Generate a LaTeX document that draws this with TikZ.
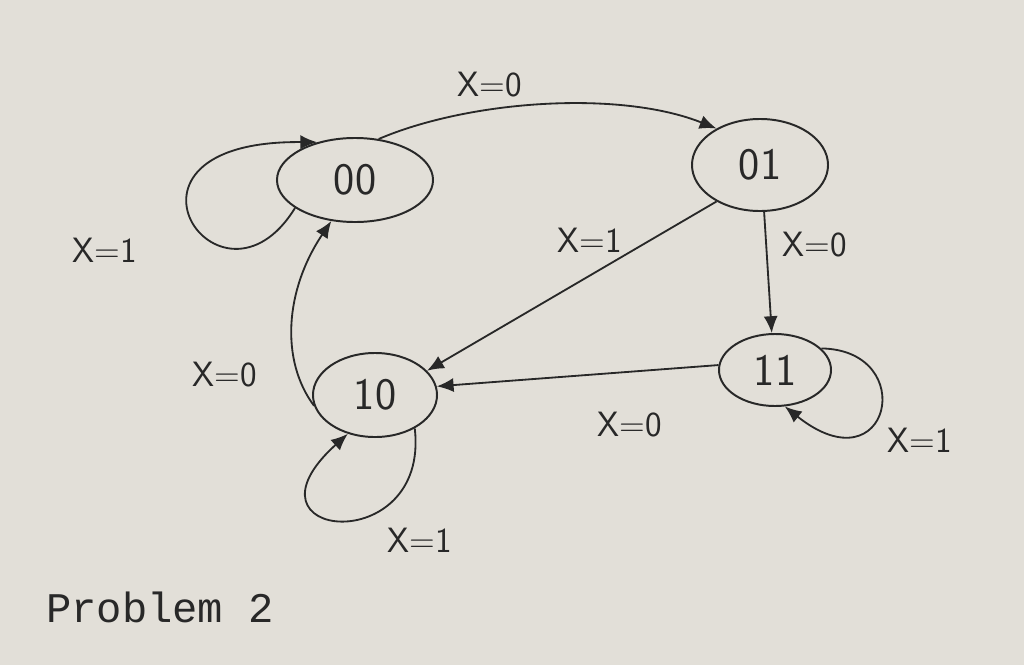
\documentclass[tikz,border=0pt]{standalone}
\usepackage{fontspec}
\setmonofont{Liberation Mono}
\usetikzlibrary{shapes.geometric,arrows.meta}
\definecolor{paper}{RGB}{226,223,216}
\definecolor{ink}{RGB}{40,40,40}
\tikzset{
  stt/.style={draw=ink,line width=1.4pt,ellipse,inner sep=0pt,font=\fontsize{32}{32}\selectfont\sffamily,text=ink},
  lbl/.style={font=\fontsize{25}{25}\selectfont\sffamily,text=ink},
  arr/.style={draw=ink,line width=1.3pt,-{Latex[length=12pt,width=10pt]}}
}
\begin{document}
\begin{tikzpicture}[x=0.025cm,y=-0.025cm]
\fill[paper] (0,0) rectangle (1024,665);
\useasboundingbox (0,0) rectangle (1024,665);
\node[stt,minimum width=3.9cm,minimum height=2.1cm] (s00) at (355,180) {00};
\node[stt,minimum width=3.4cm,minimum height=2.3cm] (s01) at (760,165) {01};
\node[stt,minimum width=2.8cm,minimum height=1.8cm] (s11) at (775,370) {11};
\node[stt,minimum width=3.1cm,minimum height=2.1cm] (s10) at (375,395) {10};
\draw[arr] (s00.60) .. controls (470,100) and (620,90) .. (s01.140);
\node[lbl] (l1) at (490,85) {X=0};
\draw[arr] (s01.220) -- (s10.25);
\node[lbl] (l2) at (590,240) {X=1};
\draw[arr] (s01.275) -- (s11.95);
\node[lbl] (l3) at (815,245) {X=0};
\draw[arr] (s11.175) -- (s10.8);
\node[lbl] (l4) at (630,425) {X=0};
\draw[arr] (s10.190) .. controls (280,360) and (285,290) .. (s00.240);
\node[lbl] (l5) at (225,375) {X=0};
\draw[arr] (s00.205) .. controls (220,330) and (90,140) .. (s00.135);
\node[lbl] (l6) at (105,250) {X=1};
\draw[arr] (s10.320) .. controls (430,560) and (230,540) .. (s10.235);
\node[lbl] (l7) at (420,540) {X=1};
\draw[arr] (s11.25) .. controls (920,350) and (890,490) .. (s11.285);
\node[lbl] (l8) at (920,440) {X=1};
\node[font=\fontsize{30}{30}\selectfont\ttfamily,text=ink] (p) at (160,607) {Problem 2};
\end{tikzpicture}
\end{document}
